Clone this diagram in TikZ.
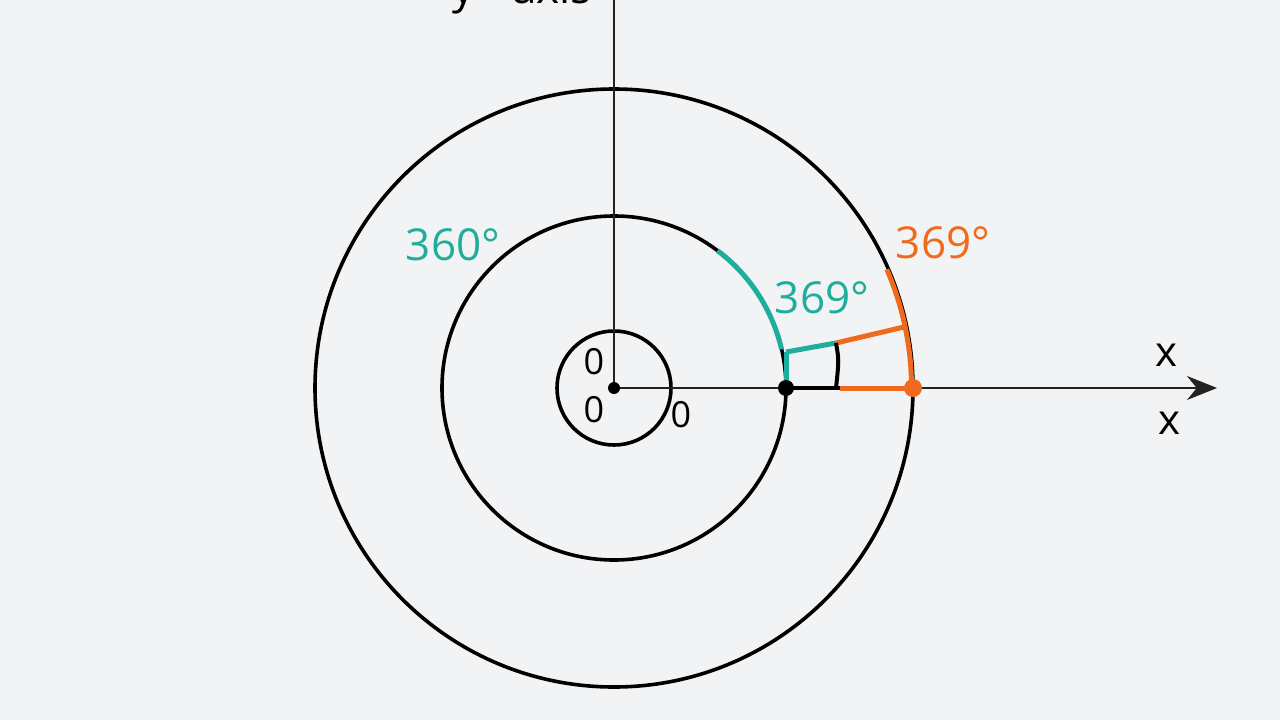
\documentclass[tikz,border=0pt]{standalone}
\usepackage{fontspec}
\setmainfont{Open Sans}
\usetikzlibrary{arrows.meta}
\definecolor{bg}{HTML}{F2F3F5}
\definecolor{tealc}{HTML}{1FAE9B}
\definecolor{orangec}{HTML}{F06A1E}
\definecolor{axisc}{HTML}{222222}
\tikzset{
  circ/.style={line width=3.6pt, draw=black},
  axisline/.style={line width=2pt, draw=axisc},
  tealline/.style={line width=5pt, draw=tealc},
  orangeline/.style={line width=5pt, draw=orangec},
  lbl/.style={font=\fontsize{44}{46}\selectfont, inner sep=0pt},
  xlbl/.style={font=\fontsize{42}{44}\selectfont, inner sep=0pt},
  zlbl/.style={font=\fontsize{36}{38}\selectfont, inner sep=0pt},
}
\begin{document}
\begin{tikzpicture}[x=1pt,y=-1pt]
\fill[bg] (0,0) rectangle (1280,720);
\useasboundingbox (0,0) rectangle (1280,720);
\coordinate (O) at (614,388);
\coordinate (ytop) at (614,-5);
\coordinate (xend) at (1217,388);
\coordinate (A) at (786,388);
\coordinate (B) at (913,388);
\coordinate (Ctop) at (786,352);
\coordinate (M) at (836,343);
\coordinate (Dtop) at (904,327);
\coordinate (R) at (840,388);
% circles
\draw[circ] (O) circle[radius=57];
\draw[circ] (O) circle[radius=172];
\draw[circ] (O) circle[radius=299];
% axes
\draw[axisline] (O) -- (ytop);
\draw[axisline, -{Stealth[length=30pt,width=24pt]}] (O) -- (xend);
% teal
\draw[tealline] (O) ++(-53:172) arc[start angle=-53, end angle=-13, radius=172];
\draw[tealline] (Ctop) -- (A);
\draw[tealline] (Ctop) -- (M);
% orange
\draw[orangeline] (O) ++(-23.5:297.5) arc[start angle=-23.5, end angle=0, radius=297.5];
\draw[orangeline] (M) -- (Dtop);
\draw[orangeline] (R) -- (B);
% right-angle mark
\draw[line width=4pt, black] (A) -- (R);
\draw[line width=4pt, black] (M) .. controls (839,360) .. (836,388);
% dots
\fill[black] (O) circle[radius=6];
\fill[black] (A) circle[radius=8];
\fill[orangec] (B) circle[radius=9];
% labels
\node[lbl, text=tealc] (t360) at (453,245) {360°};
\node[lbl, text=tealc] (t369) at (822,298) {369°};
\node[lbl, text=orangec] (o369) at (943,243) {369°};
\node[zlbl] (z1) at (594,362) {0};
\node[zlbl] (z2) at (594,410) {0};
\node[zlbl] (z3) at (681,415) {0};
\node[xlbl] (x1) at (1166,355) {x};
\node[xlbl] (x2) at (1169,423) {x};
\node[lbl, anchor=base east] (ylab) at (592,3) {y - axis};
\end{tikzpicture}
\end{document}
